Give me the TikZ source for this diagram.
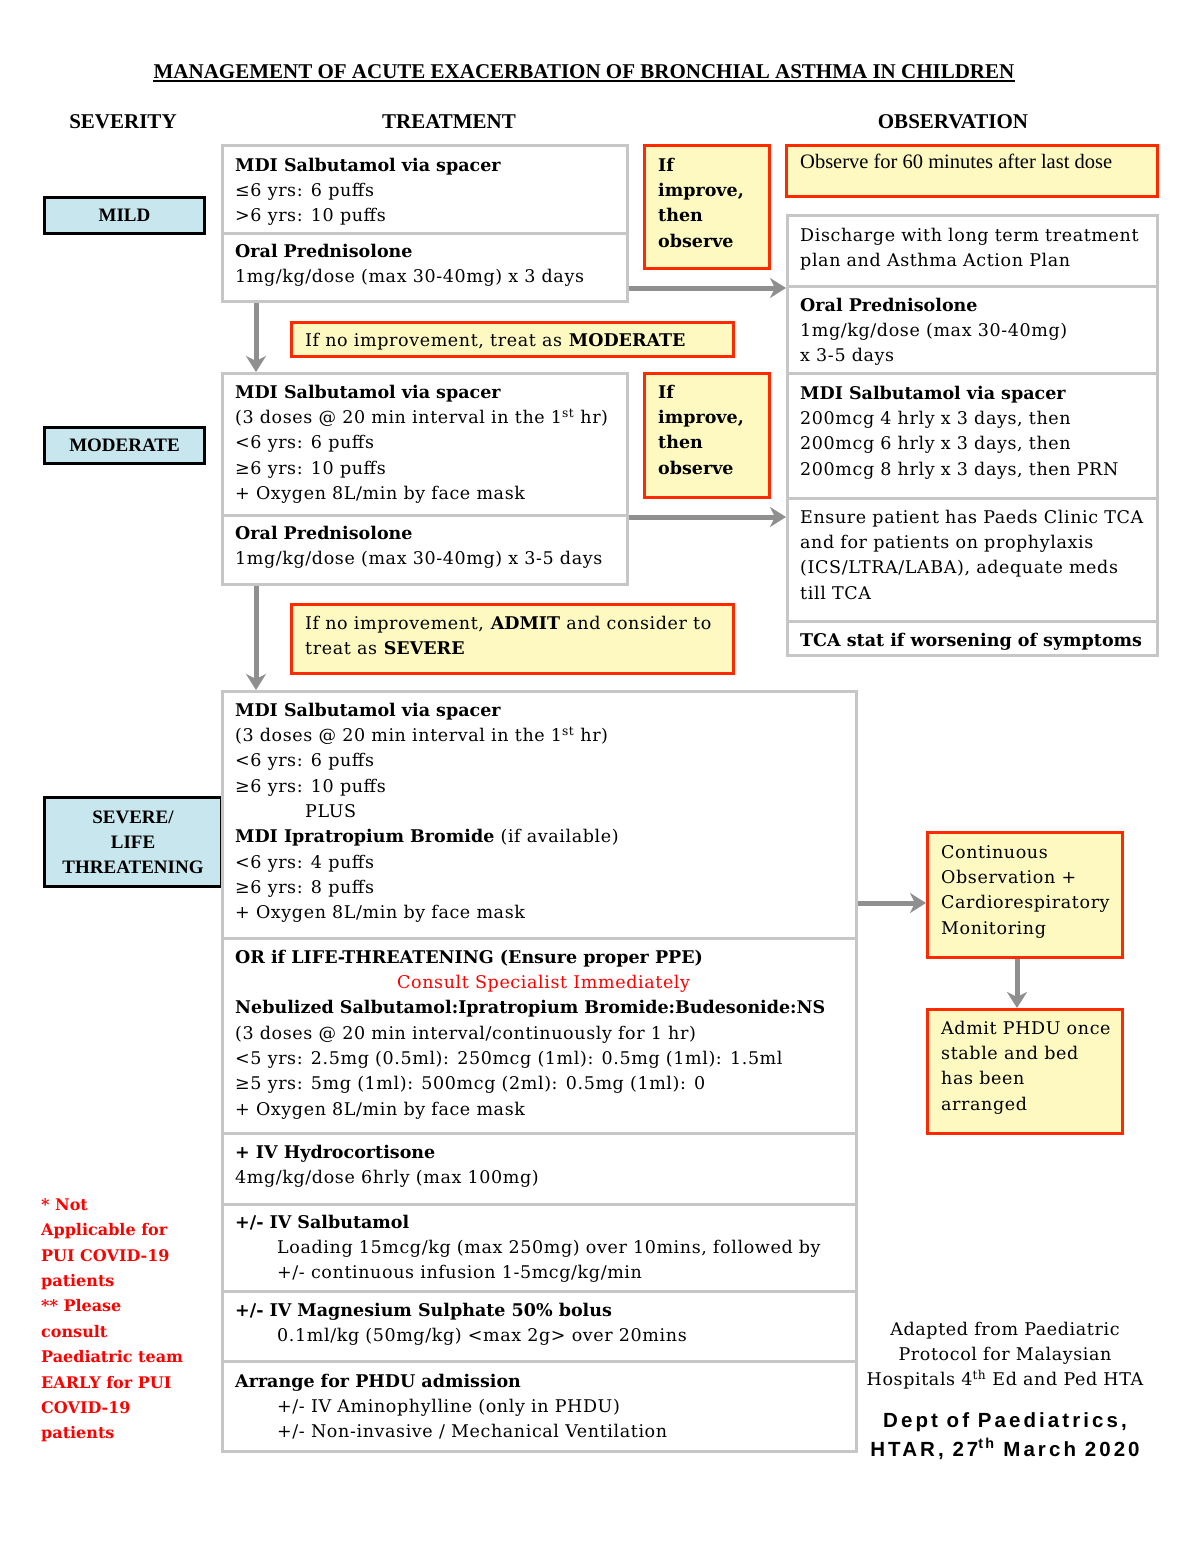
\documentclass[tikz,border=0pt]{standalone}
\usepackage{fontspec}
\setmainfont{DejaVu Serif}[LetterSpace=3.5, BoldFeatures={LetterSpace=0}]
\newfontfamily\hdfont{Liberation Serif}
\newfontfamily\deptfont[LetterSpace=15]{Liberation Sans}
\usetikzlibrary{arrows.meta,calc}
\definecolor{boxgray}{HTML}{C6C6C6}
\definecolor{arrgray}{HTML}{8F8F8F}
\definecolor{yel}{HTML}{FDF9C1}
\definecolor{redb}{HTML}{FF2A00}
\definecolor{sevblue}{HTML}{C8E6EE}
\definecolor{redtxt}{HTML}{FF0000}
\newcommand\bodyfont{\fontsize{17.5}{25.3}\selectfont}
\newcommand\fs{\rule{0pt}{17.7pt}}
\tikzset{
  sect/.style={draw=boxgray, line width=3pt, fill=white, anchor=north west, inner sep=0pt},
  yelbox/.style={draw=redb, line width=3pt, fill=yel, anchor=north west, inner sep=0pt},
  sevbox/.style={draw=black, line width=3pt, fill=sevblue, anchor=north west, inner sep=0pt,
     font=\hdfont\bfseries\fontsize{19}{25}\selectfont, align=center},
  txt/.style={anchor=north west, inner sep=0pt, align=left, font=\bodyfont},
  hdr/.style={anchor=base, inner sep=0pt, font=\hdfont\bfseries\fontsize{21}{25}\selectfont},
  arr/.style={draw=arrgray, line width=5pt, -{Stealth[length=16pt,width=20pt,inset=5pt]}},
}
\begin{document}
\begin{tikzpicture}[x=1pt,y=-1pt]
\fill[white] (0,0) rectangle (1200,1553);
\useasboundingbox (0,0) rectangle (1200,1553);

% title and headers
\node[hdr] (title) at (584,78) {MANAGEMENT OF ACUTE EXACERBATION OF BRONCHIAL ASTHMA IN CHILDREN};
\draw[line width=1.6pt] (title.base west |- 0,81) -- (title.base east |- 0,81);
\node[hdr] (hsev) at (123,128) {SEVERITY};
\node[hdr] (htreat) at (449,128) {TREATMENT};
\node[hdr] (hobs) at (953,128) {OBSERVATION};

% severity boxes
\node[sevbox, minimum width=160pt, minimum height=36pt] (mild) at (43,196) {MILD};
\node[sevbox, minimum width=160pt, minimum height=36pt] (moderate) at (43,426) {MODERATE};
\node[sevbox, minimum width=177pt, minimum height=89pt] (severe) at (43,796) {SEVERE/\\LIFE\\THREATENING};

% mild treatment
\node[sect, minimum width=405pt, minimum height=88pt] (mt) at (221,144) {};
\node[sect, minimum width=405pt, minimum height=68pt] (mb) at (221,232) {};
\node[txt] (mtt) at (235,153.3) {\fs\textbf{MDI Salbutamol via spacer}\\≤6 yrs: 6 puffs\\>6 yrs: 10 puffs};
\node[txt] (mbt) at (235,239.3) {\fs\textbf{Oral Prednisolone}\\1mg/kg/dose (max 30-40mg) x 3 days};

\node[yelbox, minimum width=125pt, minimum height=123pt] (y1) at (643,144) {};
\node[txt] (y1t) at (658,153.3) {\fs\textbf{If}\\\textbf{improve,}\\\textbf{then}\\\textbf{observe}};

% observation
\node[yelbox, minimum width=371pt, minimum height=51pt] (obs0) at (785,144) {};
\node[txt, font=\hdfont\fontsize{20.5}{25.3}\selectfont] (obs0t) at (800,150.3) {\fs Observe for 60 minutes after last dose};
\node[sect, minimum width=370pt, minimum height=71pt] (o1) at (786,214) {};
\node[sect, minimum width=370pt, minimum height=87pt] (o2) at (786,285) {};
\node[sect, minimum width=370pt, minimum height=125pt] (o3) at (786,372) {};
\node[sect, minimum width=370pt, minimum height=123pt] (o4) at (786,497) {};
\node[sect, minimum width=370pt, minimum height=34pt] (o5) at (786,620) {};
\node[txt] (o1t) at (800,223.3) {\fs Discharge with long term treatment\\plan and Asthma Action Plan};
\node[txt] (o2t) at (800,293.3) {\fs\textbf{Oral Prednisolone}\\1mg/kg/dose (max 30-40mg)\\x 3-5 days};
\node[txt] (o3t) at (800,381.3) {\fs\textbf{MDI Salbutamol via spacer}\\200mcg 4 hrly x 3 days, then\\200mcg 6 hrly x 3 days, then\\200mcg 8 hrly x 3 days, then PRN};
\node[txt] (o4t) at (800,505.3) {\fs Ensure patient has Paeds Clinic TCA\\and for patients on prophylaxis\\(ICS/LTRA/LABA), adequate meds\\till TCA};
\node[txt] (o5t) at (800,628.3) {\fs\textbf{TCA stat if worsening of symptoms}};

% notice 1
\node[yelbox, minimum width=442pt, minimum height=34pt] (n1) at (290,321) {};
\node[txt] (n1t) at (305,328.3) {\fs If no improvement, treat as \textbf{MODERATE}};

% moderate treatment
\node[sect, minimum width=405pt, minimum height=142pt] (mdt) at (221,372) {};
\node[sect, minimum width=405pt, minimum height=69pt] (mdb) at (221,514) {};
\node[txt] (mdtt) at (235,380.3) {\fs\textbf{MDI Salbutamol via spacer}\\(3 doses @ 20 min interval in the 1\textsuperscript{st} hr)\\<6 yrs: 6 puffs\\≥6 yrs: 10 puffs\\+ Oxygen 8L/min by face mask};
\node[txt] (mdbt) at (235,521.3) {\fs\textbf{Oral Prednisolone}\\1mg/kg/dose (max 30-40mg) x 3-5 days};
\node[yelbox, minimum width=125pt, minimum height=124pt] (y2) at (643,372) {};
\node[txt] (y2t) at (658,380.3) {\fs\textbf{If}\\\textbf{improve,}\\\textbf{then}\\\textbf{observe}};

% notice 2
\node[yelbox, minimum width=442pt, minimum height=69pt] (n2) at (290,603) {};
\node[txt] (n2t) at (305,611.3) {\fs If no improvement, \textbf{ADMIT} and consider to\\treat as \textbf{SEVERE}};

% severe treatment
\node[sect, minimum width=634pt, minimum height=247pt] (s1) at (221,690) {};
\node[sect, minimum width=634pt, minimum height=195pt] (s2) at (221,937) {};
\node[sect, minimum width=634pt, minimum height=71pt] (s3) at (221,1132) {};
\node[sect, minimum width=634pt, minimum height=87pt] (s4) at (221,1203) {};
\node[sect, minimum width=634pt, minimum height=70pt] (s5) at (221,1290) {};
\node[sect, minimum width=634pt, minimum height=90pt] (s6) at (221,1360) {};
\node[txt] (s1t) at (235,698.3) {\fs\textbf{MDI Salbutamol via spacer}\\(3 doses @ 20 min interval in the 1\textsuperscript{st} hr)\\<6 yrs: 6 puffs\\≥6 yrs: 10 puffs\\\hspace*{70pt}PLUS\\\textbf{MDI Ipratropium Bromide} (if available)\\<6 yrs: 4 puffs\\≥6 yrs: 8 puffs\\+ Oxygen 8L/min by face mask};
\node[txt] (s2t) at (235,945.3) {\fs\textbf{OR if LIFE-THREATENING (Ensure proper PPE)}\\\hspace*{162pt}\textcolor{redtxt}{Consult Specialist Immediately}\\\textbf{Nebulized Salbutamol:Ipratropium Bromide:Budesonide:NS}\\(3 doses @ 20 min interval/continuously for 1 hr)\\<5 yrs: 2.5mg (0.5ml): 250mcg (1ml): 0.5mg (1ml): 1.5ml\\≥5 yrs: 5mg (1ml): 500mcg (2ml): 0.5mg (1ml): 0\\+ Oxygen 8L/min by face mask};
\node[txt] (s3t) at (235,1140.3) {\fs\textbf{+ IV Hydrocortisone}\\4mg/kg/dose 6hrly (max 100mg)};
\node[txt] (s4t) at (235,1210.3) {\fs\textbf{+/- IV Salbutamol}\\\hspace*{42pt}Loading 15mcg/kg (max 250mg) over 10mins, followed by\\\hspace*{42pt}+/- continuous infusion 1-5mcg/kg/min};
\node[txt] (s5t) at (235,1298.3) {\fs\textbf{+/- IV Magnesium Sulphate 50\% bolus}\\\hspace*{42pt}0.1ml/kg (50mg/kg) <max 2g> over 20mins};
\node[txt] (s6t) at (235,1369.3) {\fs\textbf{Arrange for PHDU admission}\\\hspace*{42pt}+/- IV Aminophylline (only in PHDU)\\\hspace*{42pt}+/- Non-invasive / Mechanical Ventilation};

% right side severe
\node[yelbox, minimum width=195pt, minimum height=125pt] (cont) at (926,831) {};
\node[txt] (contt) at (941,840.3) {\fs Continuous\\Observation +\\Cardiorespiratory\\Monitoring};
\node[yelbox, minimum width=195pt, minimum height=124pt] (admit) at (926,1008) {};
\node[txt] (admitt) at (941,1016.3) {\fs Admit PHDU once\\stable and bed\\has been\\arranged};

% notes
\node[txt, font=\bfseries\fontsize{16}{25.4}\selectfont, text=redtxt] (note) at (41,1192.3) {\fs * Not\\Applicable for\\PUI COVID-19\\patients\\** Please\\consult\\Paediatric team\\EARLY for PUI\\COVID-19\\patients};
\node[anchor=north, inner sep=0pt, align=center, font=\bodyfont] (adapt) at (1005,1317.3) {\fs Adapted from Paediatric\\Protocol for Malaysian\\Hospitals 4\textsuperscript{th} Ed and Ped HTA};
\node[anchor=north, inner sep=0pt, align=center, font=\deptfont\bfseries\fontsize{20.5}{29}\selectfont] (dept) at (1005,1407) {\rule{0pt}{20.3pt}Dept of Paediatrics,\\HTAR, 27\textsuperscript{th} March 2020};

% connectors
\draw[arr] (mb.east |- o1.south) -- (o1.south west);
\draw[arr] (mdt.south east) -- (o4.west |- mdt.south);
\draw[arr] ($(mb.south west)+(35,0)$) -- ($(mdt.north west)+(35,0)$);
\draw[arr] ($(mdb.south west)+(35,0)$) -- ($(s1.north west)+(35,0)$);
\draw[arr] ($(s1.east |- cont.west)+(0,8)$) -- ($(cont.west)+(0,8)$);
\draw[arr] ($(cont.south)+(-8,0)$) -- ($(admit.north)+(-8,0)$);
\end{tikzpicture}
\end{document}
